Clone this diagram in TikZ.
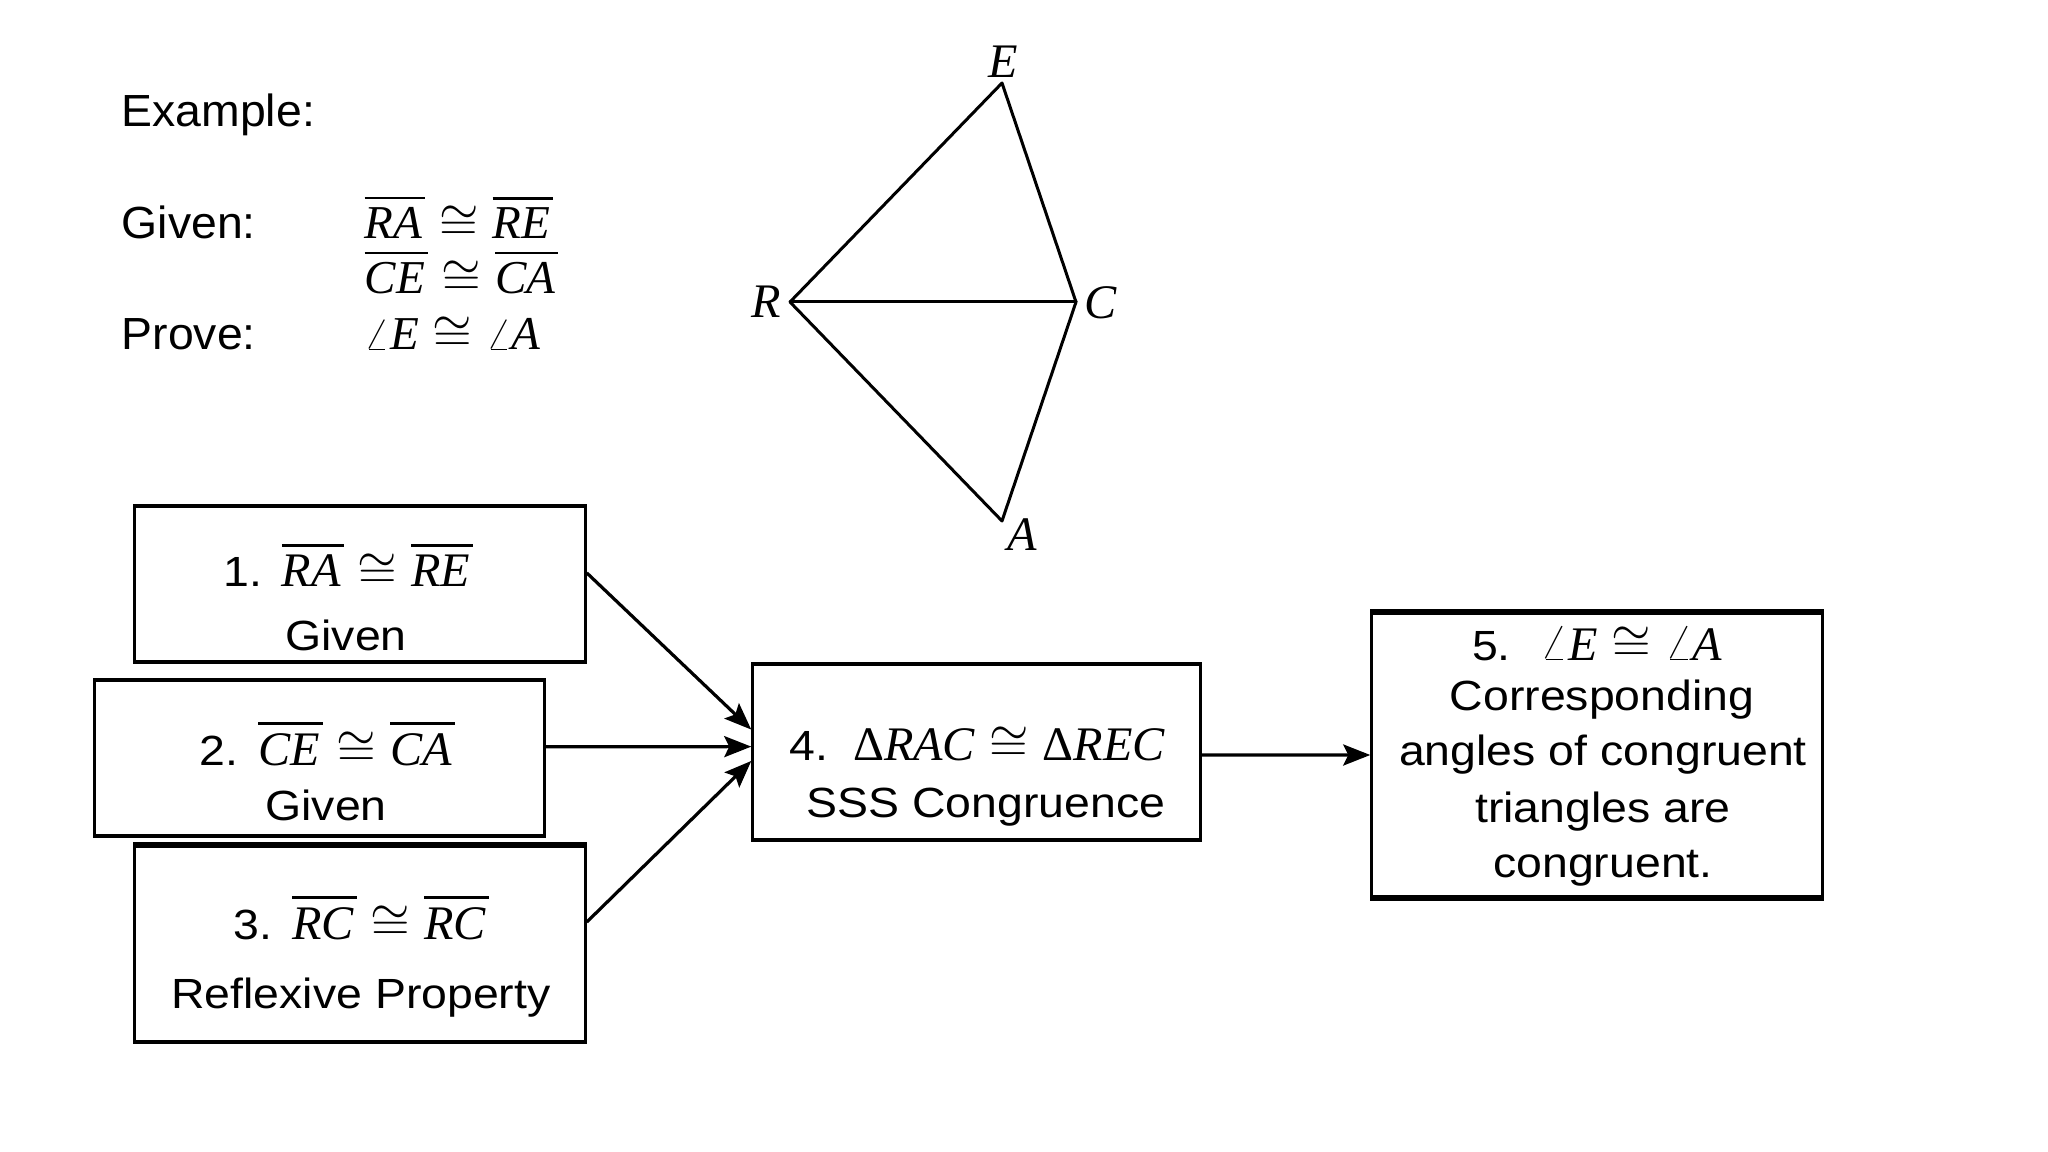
\documentclass[tikz,border=0pt]{standalone}
\usepackage{fontspec}
\setmainfont{Liberation Sans}
\newfontfamily\hdrfont[FakeStretch=1.03]{Liberation Sans}
\newfontfamily\boxfont[FakeStretch=1.1]{Liberation Sans}
\newfontfamily\mathfnt{Liberation Serif}
\usetikzlibrary{arrows.meta,calc}
\newcommand\mI[1]{\hbox{\mathfnt\itshape #1}}
\newcommand\sg[1]{\vbox{\hrule height 0.75pt\kern2.4pt\hbox{\mathfnt\itshape #1\kern0.8pt}}}
\newcommand\Dl{\hbox{\mathfnt Δ}}
\newcommand\mth[1]{{\fontsize{13.7}{16}\selectfont$#1$}}
\tikzset{
  hdr/.style={font=\hdrfont\fontsize{12.8}{15}\selectfont, inner sep=0pt, anchor=base west},
  hmath/.style={font=\fontsize{13.4}{16}\selectfont, inner sep=0pt, anchor=base west},
  txt/.style={font=\boxfont\fontsize{12}{14}\selectfont, inner sep=0pt, anchor=base},
  vlab/.style={font=\mathfnt\itshape\fontsize{13.7}{16}\selectfont, inner sep=0pt},
  box/.style={draw, line width=0.032cm, inner sep=0pt},
  seg/.style={line width=0.03cm, line cap=round, line join=round},
  arr/.style={line width=0.032cm, -{Stealth[length=0.27cm, width=0.21cm, inset=0.05cm]}}
}
\begin{document}
\begin{tikzpicture}[x=0.01cm,y=-0.01cm]
\fill[white] (0,0) rectangle (2048,1152);
\path[use as bounding box] (0,0) rectangle (2048,1152);

% header
\node[hdr] (ex) at (121,127) {Example:};
\node[hdr] (gv) at (121,239) {Given:};
\node[hdr] (pv) at (121,350) {Prove:};
\node[hmath] (g1) at (364,239) {$\sg{RA}\cong\sg{RE}$};
\node[hmath] (g2) at (364,294) {$\sg{CE}\cong\sg{CA}$};
\node[hmath] (p1) at (364,350) {$\angle\mI{E}\cong\angle\mI{A}$};

% triangle
\coordinate (E) at (1002,83);
\coordinate (R) at (790,302);
\coordinate (C) at (1076,302);
\coordinate (A) at (1002,521);
\draw[seg] (R) -- (E) -- (C) -- (A) -- cycle;
\draw[seg] (R) -- (C);
\node[vlab] (lE) at (1003,62) {E};
\node[vlab] (lR) at (766,302) {R};
\node[vlab] (lC) at (1101,303) {C};
\node[vlab] (lA) at (1022,535) {A};

% boxes
\node[box, minimum width=4.50cm, minimum height=1.56cm] (b1) at (360,584) {};
\node[box, minimum width=4.49cm, minimum height=1.56cm] (b2) at (319.5,758) {};
\node[box, minimum width=4.50cm, minimum height=1.96cm] (b3) at (360,944) {};
\node[box, minimum width=4.47cm, minimum height=1.76cm] (b4) at (976.5,752) {};
\node[box, minimum width=4.50cm, minimum height=2.84cm] (b5) at (1597,755) {};
\draw[line width=0.05cm] (b3.north west) -- (b3.north east);
\draw[line width=0.05cm] (b5.north west) -- (b5.north east);
\draw[line width=0.05cm] (b5.south west) -- (b5.south east);

% box texts
\node[txt] (t1a) at (348,587) {1.\hspace{0.2cm}\mth{\sg{RA}\cong\sg{RE}}};
\node[txt] (t1b) at (346,650) {Given};
\node[txt] (t2a) at (327,765) {2.\hspace{0.2cm}\mth{\sg{CE}\cong\sg{CA}}};
\node[txt] (t2b) at (326,820) {Given};
\node[txt] (t3a) at (361,939) {3.\hspace{0.2cm}\mth{\sg{RC}\cong\sg{RC}}};
\node[txt] (t3b) at (361,1008) {Reflexive Property};
\node[txt] (t4a) at (977,760) {4.\hspace{0.25cm}\mth{\Dl\mI{RAC}\cong\Dl\mI{REC}}};
\node[txt] (t4b) at (986,817) {SSS Congruence};
\node[txt] (t5a) at (1597,660) {5.\hspace{0.3cm}\mth{\angle\mI{E}\cong\angle\mI{A}}};
\node[txt] (t5b) at (1602,710) {Corresponding};
\node[txt] (t5c) at (1603,765) {angles of congruent};
\node[txt] (t5d) at (1603,822) {triangles are};
\node[txt] (t5e) at (1603,877) {congruent.};

% connectors
\draw[arr] ($(b1.north east)!0.43!(b1.south east)$) -- ($(b4.north west)!0.375!(b4.south west)$);
\draw[arr] ($(b2.north east)!0.43!(b2.south east)$) -- ($(b4.north west)!0.47!(b4.south west)$);
\draw[arr] ($(b3.north east)!0.39!(b3.south east)$) -- ($(b4.north west)!0.55!(b4.south west)$);
\draw[arr] ($(b4.north east)!0.517!(b4.south east)$) -- (b5.west);
\end{tikzpicture}
\end{document}
